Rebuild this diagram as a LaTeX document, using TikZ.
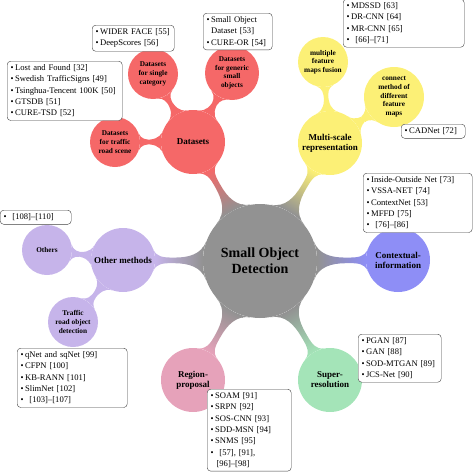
\documentclass[tikz,border=0pt]{standalone}
\usepackage{fontspec}
\setmainfont{Liberation Serif}
\usetikzlibrary{mindmap,backgrounds}

\definecolor{rootgray}{RGB}{146,146,146}
\definecolor{datared}{RGB}{245,104,104}
\definecolor{scaleyellow}{RGB}{252,240,118}
\definecolor{ctxblue}{RGB}{142,142,246}
\definecolor{supergreen}{RGB}{164,228,184}
\definecolor{regionpink}{RGB}{230,162,186}
\definecolor{otherpurple}{RGB}{198,180,234}

\tikzset{
  rootnode/.style={circle, fill=rootgray, minimum size=114pt, inner sep=0pt, align=center,
    font=\fontsize{14}{16}\selectfont\bfseries},
  mainnode/.style={circle, minimum size=64pt, inner sep=0pt, align=center,
    font=\fontsize{9}{10}\selectfont\bfseries},
  subnode/.style={circle, minimum size=50pt, inner sep=0pt, align=center,
    font=\fontsize{7.3}{8.7}\selectfont\bfseries},
  listbox/.style={draw=black!75, rounded corners=3.5pt, fill=white, align=left, anchor=north west,
    inner sep=3.5pt, text width=#1, font=\fontsize{8.6}{11.3}\selectfont},
  link/.style={line width=15pt}
}
\newcommand{\itm}{\textbullet\,}

\begin{document}
\begin{tikzpicture}[x=1pt, y=-1pt]
    \useasboundingbox (0,0) rectangle (474,474);

    \node (root) [rootnode] at (260,261) {Small Object\\Detection};

    \node (data) [mainnode, fill=datared] at (193,142) {Datasets};
    \node (road) [subnode, fill=datared] at (115,142) {Datasets\\for traffic\\road scene};
    \node (single) [subnode, fill=datared] at (153,74) {Datasets\\for single\\category};
    \node (generic) [subnode, fill=datared, minimum size=54pt] at (232,73) {Datasets\\for generic\\small\\objects};

    \node (scale) [mainnode, fill=scaleyellow] at (330,143) {Multi-scale\\representation};
    \node (fusion) [subnode, fill=scaleyellow] at (323,62) {multiple\\feature\\maps fusion};
    \node (connect) [subnode, fill=scaleyellow, minimum size=60pt] at (394,97) {connect\\method of\\different\\feature\\maps};

    \node (ctx) [mainnode, fill=ctxblue] at (398,260) {Contextual-\\information};
    \node (super) [mainnode, fill=supergreen] at (330,380) {Super-\\resolution};
    \node (region) [mainnode, fill=regionpink] at (193,380) {Region-\\proposal};

    \node (other) [mainnode, fill=otherpurple] at (123,260) {Other methods};
    \node (others) [subnode, fill=otherpurple] at (47,250) {Others};
    \node (traffic) [subnode, fill=otherpurple] at (73,322) {Traffic\\road object\\detection};

    \begin{scope}[on background layer]
        \path[link] (root) to[circle connection bar switch color=from (rootgray) to (datared)] (data);
        \path[link] (root) to[circle connection bar switch color=from (rootgray) to (scaleyellow)] (scale);
        \path[link] (root) to[circle connection bar switch color=from (rootgray) to (ctxblue)] (ctx);
        \path[link] (root) to[circle connection bar switch color=from (rootgray) to (supergreen)] (super);
        \path[link] (root) to[circle connection bar switch color=from (rootgray) to (regionpink)] (region);
        \path[link] (root) to[circle connection bar switch color=from (rootgray) to (otherpurple)] (other);

        \path[link] (data) to[circle connection bar switch color=from (datared) to (datared)] (road);
        \path[link] (data) to[circle connection bar switch color=from (datared) to (datared)] (single);
        \path[link] (data) to[circle connection bar switch color=from (datared) to (datared)] (generic);
        \path[link] (scale) to[circle connection bar switch color=from (scaleyellow) to (scaleyellow)] (fusion);
        \path[link] (scale) to[circle connection bar switch color=from (scaleyellow) to (scaleyellow)] (connect);
        \path[link] (other) to[circle connection bar switch color=from (otherpurple) to (otherpurple)] (others);
        \path[link] (other) to[circle connection bar switch color=from (otherpurple) to (otherpurple)] (traffic);
    \end{scope}

    % lists of works
    \node (roadlist) [listbox=108pt] at (7,61) {\itm Lost and Found [32]\\\itm Swedish TrafficSigns [49]\\\itm Tsinghua-Tencent 100K [50]\\\itm GTSDB [51]\\\itm CURE-TSD [52]};
    \node (singlelist) [listbox=75pt] at (92,25) {\itm WIDER FACE [55]\\\itm DeepScores [56]};
    \node (genericlist) [listbox=62pt] at (203,13) {\itm Small Object\\\phantom{\itm}Dataset [53]\\\itm CURE-OR [54]};
    \node (fusionlist) [listbox=114pt] at (343,-1) {\itm MDSSD [63]\\\itm DR-CNN [64]\\\itm MR-CNN [65]\\\itm\, [66]--[71]};
    \node (connectlist) [listbox=57pt] at (401,124) {\itm CADNet [72]};
    \node (ctxlist) [listbox=102pt] at (363,173) {\itm Inside-Outside Net [73]\\\itm VSSA-NET [74]\\\itm ContextNet [53]\\\itm MFFD [75]\\\itm\, [76]--[86]};
    \node (superlist) [listbox=76pt] at (358,334) {\itm PGAN [87]\\\itm GAN [88]\\\itm SOD-MTGAN [89]\\\itm JCS-Net [90]};
    \node (regionlist) [listbox=77pt] at (207,389) {\itm SOAM [91]\\\itm SRPN [92]\\\itm SOS-CNN [93]\\\itm SDD-MSN [94]\\\itm SNMS [95]\\\itm\, [57], [91],\\\phantom{\itm\,}[96]--[98]};
    \node (trafficlist) [listbox=103pt] at (17,348) {\itm qNet and sqNet [99]\\\itm CFPN [100]\\\itm KB-RANN [101]\\\itm SlimNet [102]\\\itm\, [103]--[107]};
    \node (otherslist) [listbox=64pt] at (0,210) {\itm\, [108]--[110]};
\end{tikzpicture}
\end{document}
